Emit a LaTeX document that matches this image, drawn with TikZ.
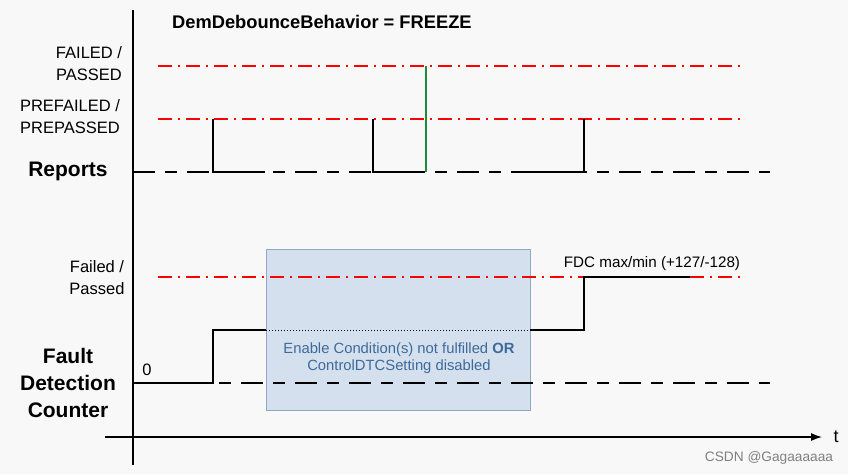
\documentclass[tikz,border=0pt]{standalone}
\usepackage{fontspec}
\setmainfont{Liberation Sans}
\usetikzlibrary{arrows.meta}
\definecolor{bg}{HTML}{F8F8F8}
\definecolor{boxfill}{HTML}{D4E0EE}
\definecolor{boxline}{HTML}{8FA8C8}
\definecolor{boxtext}{HTML}{3D6A9A}
\definecolor{grn}{HTML}{1E8C3A}
\tikzset{
  px/.style={x=1pt,y=-1pt},
  thr/.style={red,line width=1.3pt,dash pattern=on 14pt off 6pt on 2pt off 6pt},
  base/.style={black,line width=1.3pt,dash pattern=on 22pt off 10pt on 12pt off 10pt},
  sig/.style={black,line width=1.3pt},
  lbl/.style={font=\fontsize{16.5}{22}\selectfont,align=center},
  big/.style={font=\bfseries\fontsize{21}{27}\selectfont,align=center}
}
\begin{document}
\begin{tikzpicture}[px]
\fill[bg] (0,0) rectangle (848,474);
\useasboundingbox (0,0) rectangle (848,474);
% box
\node[draw=boxline,fill=boxfill,line width=0.8pt,minimum width=264pt,minimum height=161pt,inner sep=0] (box) at (398,329.5) {};
% axes
\coordinate (yt) at (133,10); \coordinate (yb) at (133,465);
\coordinate (xl) at (105,437); \coordinate (xr) at (822,437);
\draw[line width=1.2pt] (yt) -- (yb);
\draw[line width=1.2pt,-{Latex[length=11pt,width=8pt]}] (xl) -- (xr);
\node[font=\fontsize{18}{20}\selectfont] (t) at (836,437) {t};
% labels
\node[font=\bfseries\fontsize{18.3}{20}\selectfont,anchor=west,inner sep=0] (title) at (172,22) {DemDebounceBehavior = FREEZE};
\node[lbl] (fp) at (89,64) {FAILED /\\PASSED};
\node[lbl] (pfp) at (70,117) {PREFAILED /\\PREPASSED};
\node[big] (rep) at (68,171) {Reports};
\node[lbl] (fp2) at (97,278) {Failed /\\Passed};
\node[big] (fdc) at (68,383) {Fault\\Detection\\Counter};
\node[lbl] (zero) at (147,370) {0};
% thresholds
\coordinate (a1) at (158,66); \coordinate (a2) at (745,66);
\coordinate (b1) at (158,119); \coordinate (b2) at (745,119);
\coordinate (c1) at (158,277); \coordinate (c2) at (745,277);
\draw[thr] (a1) -- (a2);
\draw[thr] (b1) -- (b2);
\draw[thr] (c1) -- (c2);
% reports baseline
\coordinate (r0) at (133,172); \coordinate (r1) at (770,172);
\draw[base] (r0) -- (r1);
\coordinate (p1) at (213,119); \coordinate (q1) at (213,172); \coordinate (s1) at (265,172);
\coordinate (p2) at (373,119); \coordinate (q2) at (373,172); \coordinate (s2) at (425,172);
\coordinate (p3) at (426,66); \coordinate (q3) at (426,172);
\coordinate (p4) at (584,119); \coordinate (q4) at (584,172); \coordinate (s4) at (520,172);
\draw[sig] (p1) -- (q1) -- (s1);
\draw[sig] (p2) -- (q2) -- (s2);
\draw[sig] (s4) -- (q4) -- (p4);
\draw[grn,line width=1.3pt] (p3) -- (q3);
% FDC
\coordinate (f0) at (133,383); \coordinate (f9) at (770,383);
\draw[base] (f0) -- (f9);
\coordinate (g1) at (213,383); \coordinate (g2) at (213,330); \coordinate (g3) at (266,330);
\coordinate (g4) at (530,330); \coordinate (g5) at (584,330); \coordinate (g6) at (584,277); \coordinate (g7) at (690,277);
\draw[sig] (f0) -- (g1) -- (g2) -- (g3);
\draw[black,line width=1pt,dotted] (g3) -- (g4);
\draw[sig] (g4) -- (g5) -- (g6) -- (g7);
\node[font=\fontsize{15.2}{17}\selectfont] (max) at (652,264) {FDC max/min (+127/-128)};
\node[align=center,text=boxtext,font=\fontsize{14.8}{17}\selectfont] (btxt) at (399,358.5) {Enable Condition(s) not fulfilled \textbf{OR}\\ControlDTCSetting disabled};
\node[text=gray,font=\fontsize{13.7}{15}\selectfont] (wm) at (769,458) {CSDN @Gagaaaaaa};
\end{tikzpicture}
\end{document}
